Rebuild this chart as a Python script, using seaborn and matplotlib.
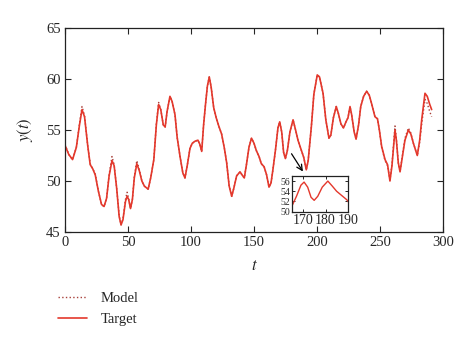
import matplotlib
matplotlib.use("Agg")
import matplotlib.pyplot as plt
import seaborn as sns
import numpy as np

t = [0, 3, 6, 9, 11.5, 13.5, 15.5, 18, 20, 22, 24, 26.5, 29, 31, 33, 35, 37.3, 39, 41, 43,
     44.5, 46, 48, 49.3, 50.5, 52, 53.5, 55, 57, 59, 61, 63, 66, 68, 70.5, 72.5, 74.3, 76, 78,
     79.5, 81, 83.3, 85, 87.3, 89, 91.3, 93.5, 95.2, 97, 99.2, 101, 103.2, 105.5, 107, 108.5,
     110, 111.5, 113, 114.5, 116, 118, 120, 122, 124.3, 126.5, 128.3, 130.3, 132.3, 134,
     136.2, 138.9, 140.5, 142.3, 144, 146, 148, 150, 151.8, 154, 155.8, 158, 160, 161.9,
     163.5, 165, 167, 169, 170.4, 172, 173.5, 174.9, 176.5, 178.5, 181, 183, 184.9, 187.6,
     189.5, 191.5, 193, 195.5, 197.5, 200.2, 202, 204.8, 207, 209.5, 211, 213, 215.3, 217,
     219, 221, 223, 224.6, 226.2, 227.5, 229.5, 231, 233, 234.7, 237, 239.4, 241.5, 243.3,
     246, 248, 249.5, 251.3, 254, 256, 257.9, 259.5, 261.9, 263, 264.5, 265.9, 268, 269.8,
     272.5, 274.5, 276.5, 279.6, 281.5, 283.1, 285.7, 287.5, 289.5, 291]

target = [53.5, 52.6, 52.1, 53.3, 55.5, 57.0, 56.3, 53.5, 51.6, 51.2, 50.6, 49.0, 47.7, 47.5,
          48.3, 50.5, 52.0, 51.5, 49.3, 46.5, 45.7, 46.2, 48.0, 48.5, 48.2, 47.3, 48.2, 50.3,
          51.7, 51.0, 50.0, 49.5, 49.2, 50.3, 52.1, 55.5, 57.5, 57.0, 55.5, 55.3, 56.8, 58.3,
          57.8, 56.5, 54.3, 52.4, 50.8, 50.3, 51.5, 53.2, 53.7, 53.9, 54.0, 53.6, 52.9, 55.5,
          57.5, 59.3, 60.2, 59.2, 57.2, 56.2, 55.4, 54.6, 53.2, 51.8, 49.5, 48.5, 49.3, 50.5,
          50.9, 50.6, 50.3, 51.6, 53.3, 54.2, 53.7, 53.0, 52.4, 51.7, 51.4, 50.6, 49.4, 49.8,
          51.1, 53.0, 55.2, 55.8, 54.8, 52.8, 52.2, 53.0, 54.8, 56.0, 55.0, 54.0, 53.0, 52.3,
          51.1, 52.0, 55.3, 58.5, 60.4, 60.2, 58.6, 56.0, 54.2, 54.5, 56.2, 57.3, 56.6, 55.6,
          55.2, 55.8, 56.2, 57.3, 56.5, 54.8, 54.1, 55.5, 57.3, 58.3, 58.8, 58.4, 57.6, 56.3,
          56.1, 55.0, 53.4, 52.1, 51.6, 50.0, 51.5, 55.0, 54.0, 51.8, 50.9, 52.6, 54.0, 55.0,
          54.6, 53.7, 52.5, 54.0, 56.0, 58.6, 58.3, 57.5, 57.0]

model = [53.6, 52.6, 52.1, 53.3, 55.6, 57.3, 56.4, 53.5, 51.7, 51.2, 50.7, 49.0, 47.7, 47.5,
         48.3, 50.6, 52.4, 51.6, 49.3, 46.6, 45.7, 46.3, 48.2, 48.9, 48.3, 47.3, 48.2, 50.4,
         52.0, 51.1, 50.0, 49.5, 49.2, 50.3, 52.1, 55.6, 57.7, 57.0, 55.5, 55.3, 56.8, 58.3,
         57.8, 56.5, 54.3, 52.4, 50.8, 50.3, 51.5, 53.2, 53.7, 53.9, 54.0, 53.6, 52.9, 55.5,
         57.5, 59.3, 60.2, 59.2, 57.2, 56.2, 55.4, 54.6, 53.2, 51.8, 49.5, 48.5, 49.3, 50.5,
         50.9, 50.6, 50.3, 51.6, 53.3, 54.2, 53.7, 53.0, 52.4, 51.7, 51.4, 50.6, 49.4, 49.8,
         51.1, 53.0, 55.2, 55.8, 54.8, 52.8, 52.2, 53.0, 54.8, 56.0, 55.0, 54.0, 53.0, 52.3,
         51.1, 52.0, 55.3, 58.5, 60.4, 60.2, 58.6, 56.0, 54.2, 54.5, 56.2, 57.3, 56.6, 55.6,
         55.2, 55.8, 56.2, 57.3, 56.5, 54.8, 54.1, 55.5, 57.3, 58.3, 58.8, 58.4, 57.6, 56.3,
         56.1, 55.0, 53.3, 52.0, 51.5, 50.1, 51.6, 55.4, 54.1, 51.8, 50.9, 52.7, 54.2, 55.2,
         54.7, 53.7, 52.5, 53.8, 55.6, 58.0, 57.6, 56.8, 56.3]

sns.set_style("ticks")
plt.rcParams['font.family'] = ['Liberation Serif', 'DejaVu Serif']
plt.rcParams['mathtext.fontset'] = 'stix'

W, H = 474, 349
fig = plt.figure(figsize=(W / 100, H / 100), dpi=100)
ax = fig.add_axes([65 / W, 1 - 232 / H, (443 - 65) / W, (232 - 28) / H])

red = '#e4382c'
sns.lineplot(x=t, y=model, ax=ax, sort=False, color='#a8403a', linestyle=':',
             linewidth=1.0, label='Model')
sns.lineplot(x=t, y=target, ax=ax, sort=False, color=red, linewidth=1.2,
             label='Target')

ax.set_xlim(0, 300)
ax.set_ylim(45, 65)
ax.set_xticks([0, 50, 100, 150, 200, 250, 300])
ax.set_yticks([45, 50, 55, 60, 65])
ax.tick_params(direction='in', top=True, right=True, labelsize=10.5, length=4,
               width=0.8, pad=3)
for s in ax.spines.values():
    s.set_visible(True)
    s.set_linewidth(0.9)
    s.set_color('#222222')
ax.set_xlabel('$t$', fontsize=12, labelpad=6)
ax.set_ylabel('$y(t)$', fontsize=12, labelpad=8)

handles, labels = ax.get_legend_handles_labels()
ax.get_legend().remove()
fig.legend(handles, labels, loc='upper left', bbox_to_anchor=(58 / W, 1 - 292 / H),
           frameon=False, fontsize=10.5, handlelength=2.0, handletextpad=0.9,
           labelspacing=0.55, borderpad=0, borderaxespad=0)

# inset
ins = fig.add_axes([292 / W, 1 - 211.5 / H, (348 - 292) / W, (211.5 - 176) / H])
sns.lineplot(x=t, y=target, ax=ins, sort=False, color=red, linewidth=1.0)
ins.set_xlim(165, 190)
ins.set_ylim(50, 57)
ins.set_xticks([170, 180, 190])
ins.set_yticks([50, 52, 54, 56])
ins.tick_params(direction='in', top=True, right=True, labelsize=7, length=2.5,
                width=0.7, pad=1.5)
ins.tick_params(axis='x', labelsize=10)
for s in ins.spines.values():
    s.set_visible(True)
    s.set_linewidth(0.9)
    s.set_color('#222222')
ins.set_xlabel('')
ins.set_ylabel('')

ax.annotate('', xy=(190, 50.7), xytext=(178.6, 52.9),
            arrowprops=dict(arrowstyle='->', color='black', lw=0.9))

fig.savefig('out.png', dpi=100)
